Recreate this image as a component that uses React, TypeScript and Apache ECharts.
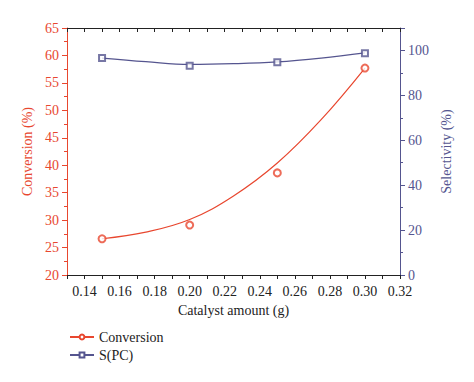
import React, { useEffect, useRef } from "react";
import * as echarts from "echarts";

// measured points
const catalyst = [0.15, 0.2, 0.25, 0.3];
const conversion = [26.6, 29.1, 38.6, 57.7];
const selectivity = [96.6, 93.2, 94.8, 98.8];

// fitted curves
const fitX = [0.15, 0.175, 0.2, 0.225, 0.25, 0.275, 0.3];
const conversionFit = [26.6, 27.8, 30.1, 34.4, 40.4, 48.3, 57.7];
const selectivityFit = [96.6, 95.0, 93.8, 94.1, 94.9, 96.6, 98.9];

const RED = "#e8472f";
const BLUE = "#55558f";
const FONT = "Liberation Serif";

const pairs = (xs: number[], ys: number[]) => xs.map((x, i) => [x, ys[i]]);

export default function App() {
  const ref = useRef<HTMLDivElement>(null);
  useEffect(() => {
    if (!ref.current) return;
    const chart = echarts.init(ref.current, undefined, { renderer: "svg" });
    const xLabelFmt = (v: number) =>
      Math.round(v * 100) % 2 === 0 ? v.toFixed(2) : "";
    chart.setOption({
      animation: false,
      backgroundColor: "#fff",
      textStyle: { fontFamily: FONT },
      grid: { left: 67, right: 74, top: 28, bottom: 107 },
      legend: {
        data: ["Conversion", "S(PC)"],
        orient: "vertical",
        left: 64,
        top: 325,
        itemWidth: 24,
        itemHeight: 6,
        itemGap: 4,
        textStyle: { fontFamily: FONT, fontSize: 14, color: "#222" },
      },
      xAxis: [
        {
          type: "value",
          min: 0.13,
          max: 0.32,
          interval: 0.01,
          name: "Catalyst amount (g)",
          nameLocation: "middle",
          nameGap: 28,
          nameTextStyle: { fontFamily: FONT, fontSize: 14, color: "#222" },
          axisLine: { show: true, lineStyle: { color: "#222", width: 1 } },
          axisTick: { show: true, length: 4, lineStyle: { color: "#222" } },
          axisLabel: {
            formatter: xLabelFmt,
            fontFamily: FONT,
            fontSize: 14,
            color: "#222",
            margin: 9,
          },
          splitLine: { show: false },
        },
        {
          type: "value",
          position: "top",
          min: 0.13,
          max: 0.32,
          interval: 0.01,
          axisLine: { show: true, lineStyle: { color: "#222", width: 1 } },
          axisTick: { show: true, inside: true, length: 4, lineStyle: { color: "#222" } },
          axisLabel: { show: false },
          splitLine: { show: false },
        },
      ],
      yAxis: [
        {
          type: "value",
          min: 20,
          max: 65,
          interval: 5,
          name: "Conversion (%)",
          nameLocation: "middle",
          nameGap: 32,
          nameTextStyle: { fontFamily: FONT, fontSize: 14, color: RED },
          axisLine: { show: true, lineStyle: { color: RED, width: 1 } },
          axisTick: { show: true, length: 5, lineStyle: { color: RED } },
          minorTick: { show: true, splitNumber: 2, length: 3, lineStyle: { color: RED } },
          axisLabel: { fontFamily: FONT, fontSize: 14, color: RED, margin: 8 },
          splitLine: { show: false },
          minorSplitLine: { show: false },
        },
        {
          type: "value",
          min: 0,
          max: 110,
          interval: 20,
          position: "right",
          name: "Selectivity (%)",
          nameLocation: "middle",
          nameGap: 38,
          nameTextStyle: { fontFamily: FONT, fontSize: 14, color: BLUE },
          axisLine: { show: true, lineStyle: { color: BLUE, width: 1 } },
          axisTick: { show: true, length: 5, lineStyle: { color: BLUE } },
          minorTick: { show: true, splitNumber: 2, length: 3, lineStyle: { color: BLUE } },
          axisLabel: {
            fontFamily: FONT,
            fontSize: 14,
            color: BLUE,
            margin: 8,
            showMaxLabel: false,
            formatter: (v: number) => (v > 100 ? "" : String(v)),
          },
          splitLine: { show: false },
          minorSplitLine: { show: false },
        },
      ],
      series: [
        {
          name: "Conversion",
          type: "line",
          yAxisIndex: 0,
          data: pairs(fitX, conversionFit),
          smooth: 0.4,
          showSymbol: false,
          symbol: "emptyCircle",
          symbolSize: 6,
          lineStyle: { color: RED, width: 1.2 },
          itemStyle: { color: RED },
          z: 2,
        },
        {
          name: "ConversionPts",
          type: "scatter",
          yAxisIndex: 0,
          data: pairs(catalyst, conversion),
          symbol: "emptyCircle",
          symbolSize: 7,
          itemStyle: { color: RED, borderColor: RED, borderWidth: 1.2 },
          z: 3,
        },
        {
          name: "S(PC)",
          type: "line",
          yAxisIndex: 1,
          data: pairs(fitX, selectivityFit),
          smooth: 0.4,
          showSymbol: false,
          symbol: "emptyRect",
          symbolSize: 6,
          lineStyle: { color: BLUE, width: 1.2 },
          itemStyle: { color: BLUE },
          z: 2,
        },
        {
          name: "SPts",
          type: "scatter",
          yAxisIndex: 1,
          data: pairs(catalyst, selectivity),
          symbol: "emptyRect",
          symbolSize: 6,
          itemStyle: { color: BLUE, borderColor: BLUE, borderWidth: 1.2 },
          z: 3,
        },
      ],
    });
    return () => chart.dispose();
  }, []);
  return <div ref={ref} style={{ width: 474, height: 382, margin: -8 }} />;
}
